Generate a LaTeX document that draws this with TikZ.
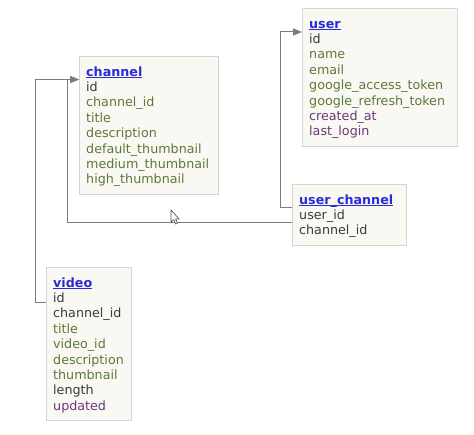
\documentclass[tikz,border=0pt]{standalone}
\usepackage{fontspec}
\setmainfont{DejaVu Sans}
\usetikzlibrary{arrows.meta}

\definecolor{boxfill}{HTML}{F9F8F3}
\definecolor{boxline}{HTML}{D6D6CE}
\definecolor{keyblue}{HTML}{2B2BD8}
\definecolor{plaingray}{HTML}{3A3A3A}
\definecolor{fieldgreen}{HTML}{5A7A3A}
\definecolor{stamppurple}{HTML}{6A3A7A}
\definecolor{linkgray}{HTML}{7C7C7C}

\newsavebox{\tnamebox}
\newcommand{\tname}[1]{\sbox{\tnamebox}{\textbf{#1}}\rule{0pt}{13.5pt}%
  {\color{keyblue}\textbf{#1}\llap{\rule[-2.2pt]{\wd\tnamebox}{1pt}}}}
\newcommand{\fkey}[1]{\textcolor{plaingray}{#1}}
\newcommand{\fdata}[1]{\textcolor{fieldgreen}{#1}}
\newcommand{\fstamp}[1]{\textcolor{stamppurple}{#1}}
\newcommand{\tend}{\rule[-3.3pt]{0pt}{3.3pt}}

\begin{document}
\begin{tikzpicture}[x=1pt,y=-1pt,
	table/.style={draw=boxline,fill=boxfill,anchor=north west,align=left,
		inner xsep=7pt,inner ysep=6.5pt,font=\fontsize{12.7}{15.4}\selectfont},
	link/.style={draw=linkgray,line width=1pt},
	into/.style={link,-{Triangle[length=9pt,width=7pt]}}]
	\path[fill=white,use as bounding box] (0,0) rectangle (474,435);
	% tables
	\node[table,text width=125pt] (channel) at (79,56) {\tname{channel}\\
		\fkey{id}\\ \fdata{channel\_id}\\ \fdata{title}\\ \fdata{description}\\
		\fdata{default\_thumbnail}\\ \fdata{medium\_thumbnail}\\ \fdata{high\_thumbnail}\tend};
	\node[table,text width=141pt] (user) at (302,8) {\tname{user}\\
		\fkey{id}\\ \fdata{name}\\ \fdata{email}\\ \fdata{google\_access\_token}\\
		\fdata{google\_refresh\_token}\\ \fstamp{created\_at}\\ \fstamp{last\_login}\tend};
	\node[table,text width=100pt] (userchannel) at (292,184) {\tname{user\_channel}\\
		\fkey{user\_id}\\ \fkey{channel\_id}\tend};
	\node[table,text width=71pt] (video) at (46,267) {\tname{video}\\
		\fkey{id}\\ \fkey{channel\_id}\\ \fdata{title}\\ \fdata{video\_id}\\
		\fdata{description}\\ \fdata{thumbnail}\\ \fkey{length}\\ \fstamp{updated}\tend};
	% connectors
	\coordinate (channelin) at ([yshift=-23.5pt]channel.north west);
	\coordinate (userin) at ([yshift=-24pt]user.north west);
	\draw[into] ([yshift=-36pt]video.north west) -- ++(-11pt,0) |- (channelin);
	\draw[into] ([yshift=-39pt]userchannel.north west) -| ([xshift=-12pt]channelin) -- (channelin);
	\draw[into] ([yshift=-24pt]userchannel.north west) -- ++(-12pt,0) |- (userin);
	% mouse pointer
	\filldraw[fill=white,draw=black!70,line width=0.6pt,line join=round]
		(171,210) -- (171,222) -- (173.8,219.6) -- (175.6,224) -- (177.4,223.2)
		-- (175.6,219) -- (179.2,219) -- cycle;
\end{tikzpicture}
\end{document}
